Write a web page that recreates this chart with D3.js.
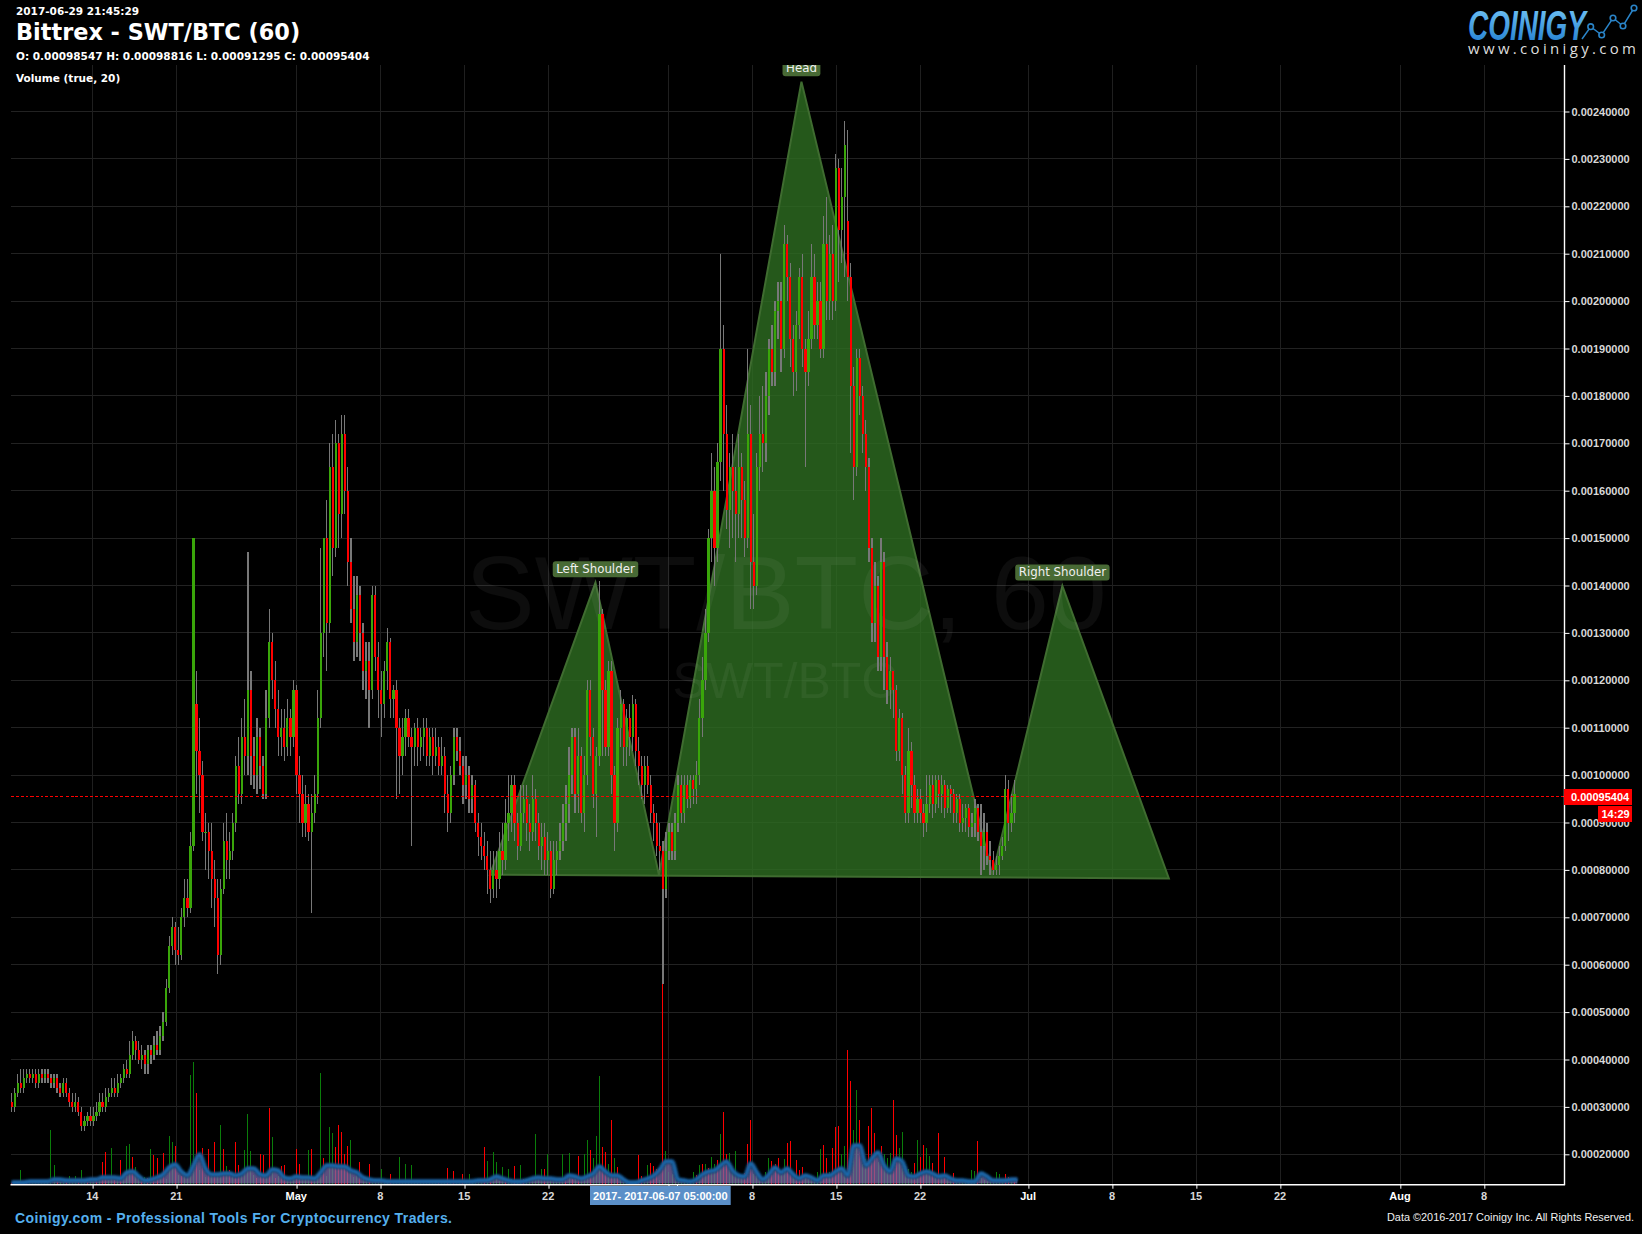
<!DOCTYPE html>
<html><head><meta charset="utf-8">
<style>html,body{margin:0;padding:0;background:#000;overflow:hidden}svg{display:block}</style>
<script src="https://d3js.org/d3.v7.min.js"></script></head><body>
<script>
// Prices are in units of 0.00001 BTC; one candle every candleStepHours from candleStart.
const candleStart = "2017-04-07T06:00:00Z";
const candleStepHours = 6.06;
const opens = [
31,30,33,35,34,36,37,36,37,35,
37,36,37,36,35,36,34,33,35,33,
31,30,31,29,26,27,28,27,28,29,
31,30,32,33,34,33,35,36,38,37,
41,44,42,40,41,39,42,41,43,42,
45,48,55,64,68,63,62,70,74,72,
85,115,105,100,88,88,84,78,74,62,
76,86,82,84,90,102,96,108,104,118,
104,100,108,102,96,112,128,120,114,108,
110,106,112,108,118,100,96,90,94,88,
92,96,112,130,150,132,165,148,170,155,
172,160,145,135,128,138,130,122,124,118,
138,125,118,115,122,128,116,118,110,104,
108,112,108,106,110,106,108,110,104,108,
104,106,102,104,96,92,100,108,105,102,
98,100,95,98,90,87,85,83,80,76,
80,78,84,82,90,92,98,90,85,92,
95,90,88,95,90,85,87,82,84,76,
82,84,86,90,94,100,108,96,104,92,
100,118,108,96,104,134,118,106,122,100,
90,110,115,106,112,108,115,105,102,98,
102,98,92,90,85,84,76,84,88,84,
90,98,92,98,95,99,97,100,112,120,
130,150,160,148,166,190,172,156,165,160,
155,165,158,150,172,145,140,165,172,170,
180,190,185,198,200,190,212,205,192,185,
195,205,190,185,192,205,195,200,190,212,
200,210,200,228,215,222,217,205,182,165,
188,180,172,165,148,132,140,125,145,125,
118,122,118,105,112,100,92,105,98,92,
95,92,90,94,98,94,99,96,98,93,
97,96,92,95,90,91,93,89,90,93,
88,85,88,83,82,80,81,83,85,97,
90,92];
const closes = [
30,33,35,34,36,37,36,37,35,37,
36,37,36,35,36,34,33,35,33,31,
30,31,29,26,27,28,27,28,29,31,
30,32,33,34,33,35,36,38,37,41,
44,42,40,41,39,42,41,43,42,45,
48,55,64,68,63,62,70,74,72,85,
150,105,100,88,88,84,78,74,62,76,
86,82,84,90,102,96,108,104,118,104,
100,108,102,96,112,128,120,114,108,110,
106,112,108,118,100,96,90,94,88,92,
96,112,130,150,132,165,148,170,155,172,
160,145,135,128,138,130,122,124,118,138,
125,118,115,122,128,116,118,110,104,108,
112,108,106,110,106,108,110,104,108,104,
106,102,104,96,92,100,108,105,102,98,
100,95,98,90,87,85,83,80,76,80,
78,84,82,90,92,98,90,85,92,95,
90,88,95,90,85,87,82,84,76,82,
84,86,90,94,100,108,96,104,92,100,
118,108,96,104,134,118,106,122,100,90,
110,115,106,112,108,115,105,102,98,102,
98,92,90,85,84,76,84,88,84,90,
98,92,98,95,99,97,100,112,120,130,
150,160,148,166,190,172,156,165,160,155,
165,158,150,172,145,140,165,172,170,180,
190,185,198,200,190,212,205,192,185,195,
205,190,185,192,205,195,200,190,212,200,
210,200,228,215,222,233,205,182,165,188,
180,172,165,148,132,140,125,145,125,118,
122,118,105,112,100,92,105,98,92,95,
92,90,94,98,94,99,96,98,93,97,
96,92,95,90,91,93,89,90,93,88,
85,88,83,82,80,81,83,85,97,90,
92,96];
const highs = [
33,34,37,38,38,38,38,38,38,38,
38,38,38,37,37,37,35,36,36,34,
33,33,32,30,28,29,30,30,31,33,
33,34,34,36,36,37,37,39,40,44,
46,45,44,43,42,43,43,45,46,47,
50,57,66,70,69,68,72,78,78,88,
150,122,112,103,92,90,90,82,78,78,
90,92,88,92,104,108,112,116,147,122,
108,112,110,104,118,135,130,124,118,114,
114,116,114,120,119,104,100,98,96,96,
100,118,148,148,158,170,172,175,172,176,
176,165,150,142,142,140,132,128,128,140,
140,128,122,124,131,129,119,120,112,112,
114,114,110,111,112,110,112,112,110,110,
110,108,108,106,100,102,110,110,108,104,
104,102,100,99,92,90,88,86,84,84,
84,88,90,95,100,100,100,92,98,98,
98,94,100,97,92,90,90,88,86,86,
86,90,94,98,106,110,110,110,106,104,
120,120,110,106,141,135,120,124,124,102,
112,118,116,114,115,117,116,108,104,104,
104,100,94,92,90,86,88,90,90,92,
100,100,100,100,100,100,103,116,125,135,
152,168,165,170,210,195,178,168,172,165,
172,168,162,190,178,155,168,180,182,185,
192,195,200,204,204,216,214,208,195,198,
207,210,192,198,212,210,204,204,218,222,
214,216,231,230,228,238,236,208,186,190,
190,182,175,167,150,145,142,150,147,128,
125,122,119,114,113,102,110,107,100,97,
97,94,100,100,100,100,100,100,99,98,
98,97,96,96,94,94,94,92,95,94,
94,92,90,86,84,83,85,87,100,99,
96,99];
const lows = [
29,29,32,33,33,35,35,35,34,34,
35,35,35,34,34,33,32,32,32,30,
29,29,28,25,25,26,26,26,27,28,
29,29,31,32,32,32,34,35,36,36,
40,40,39,38,37,37,39,40,41,41,
44,47,54,62,60,60,61,68,70,71,
84,96,92,86,80,78,72,68,58,60,
75,78,78,82,88,94,94,100,100,98,
97,96,97,95,95,110,116,110,104,104,
103,104,104,106,96,90,87,87,86,71,
90,94,110,125,122,130,142,146,148,150,
155,140,132,124,125,124,118,116,110,116,
122,112,108,112,118,112,112,95,96,100,
104,106,85,102,102,103,104,102,102,100,
102,100,100,92,88,90,98,103,100,94,
95,92,92,88,83,82,80,75,73,74,
74,76,79,80,86,88,86,82,84,90,
86,84,86,86,82,80,79,79,74,75,
79,82,84,86,90,96,92,92,90,88,
98,104,93,87,102,104,104,104,96,84,
88,106,102,102,104,105,102,98,95,94,
96,90,86,83,80,56,74,82,82,82,
88,90,90,93,93,94,94,98,108,118,
128,145,140,145,162,160,152,148,150,145,
150,150,146,148,135,135,138,160,164,166,
176,182,182,192,185,188,200,186,180,181,
192,186,165,182,190,192,192,188,188,196,
196,196,198,204,208,205,200,168,158,163,
176,168,160,145,128,128,122,122,118,115,
114,112,103,103,96,90,90,93,90,90,
90,87,88,92,91,92,93,92,91,92,
92,90,90,88,88,88,87,87,87,86,
79,80,81,79,79,79,79,82,84,86,
88,90];
// Signed volume per candle: positive is green, negative is red.
const volumes = [
-1,1,1,14,2,-2,1,1,1,1,
1,1,2,54,19,-3,2,3,-2,8,
2,8,-2,14,3,-2,4,5,-3,6,
-22,-32,4,36,-4,5,-24,6,38,40,
-27,17,6,-5,7,-6,35,-29,-26,8,
-31,5,48,42,-38,9,-8,12,10,109,
122,-91,14,-36,7,-35,8,-42,9,59,
-35,18,-14,10,-42,-19,8,34,70,33,
9,-6,-30,-29,7,-76,47,-6,8,-18,
-19,5,4,6,-35,-20,6,5,34,-35,
7,6,111,-26,8,57,51,-37,-59,-52,
-30,-38,44,7,8,-22,6,4,-20,5,
5,3,15,3,3,-10,2,3,27,3,
20,2,19,2,1,2,2,1,2,2,
1,-3,2,1,-16,2,-13,1,1,-10,
2,10,3,2,3,2,-37,23,-3,32,
22,3,17,-4,15,5,-18,4,19,-5,
5,4,6,50,6,15,-15,30,5,4,
3,6,30,-4,31,-5,5,-28,6,30,
44,-34,26,48,108,-37,-32,20,-64,26,
-17,6,2,1,1,1,1,-29,-8,3,
19,-21,-18,-15,4,-200,33,12,10,7,
6,5,3,2,3,12,-9,19,-20,20,
-16,27,20,-24,50,-72,-30,31,12,33,
8,7,-11,-40,-64,10,12,6,5,12,
26,-23,-20,-26,9,25,-41,-43,9,-24,
-14,-17,7,5,8,6,12,35,-39,-26,
12,-36,-57,-58,30,38,-134,-103,54,94,
-64,20,25,-58,-76,-51,22,-38,30,26,
31,-84,-49,36,52,18,15,12,-21,44,
-27,-39,36,28,-21,10,-51,8,-27,7,
6,-11,5,5,4,3,4,14,13,-43,
6,4,3,3,4,12,10,3,-10,-7,
4,-5];
// Volume moving average, one value every second candle.
const volumeAverage = [
1,1,1,2,2,2,2,4,4,3,3,3,3,4,4,6,6,6,5,11,
12,7,3,4,6,9,16,19,12,8,18,29,15,9,9,10,10,8,10,15,
15,9,8,14,13,6,5,7,6,6,5,11,18,18,17,17,13,11,6,4,
3,3,2,2,2,2,2,2,2,2,2,2,2,2,2,2,2,3,3,4,
7,5,3,2,2,3,5,6,5,5,4,4,8,7,5,7,10,17,12,8,
8,4,1,1,3,5,8,14,22,22,4,3,2,4,9,12,13,18,22,13,
8,7,20,11,4,9,16,11,15,9,5,8,6,3,8,8,12,15,8,38,
38,18,25,31,18,12,25,22,8,7,10,12,10,7,8,5,3,3,2,2,
10,7,3,3,3,4,4];
const priceTicks = [240,230,220,210,200,190,180,170,160,150,140,130,120,110,100,90,80,70,60,50,40,30,20];
const xTickDates = ["2017-04-14","2017-04-21","2017-05-01","2017-05-08","2017-05-15","2017-05-22","2017-06-01","2017-06-08","2017-06-15","2017-06-22","2017-07-01","2017-07-08","2017-07-15","2017-07-22","2017-08-01","2017-08-08"];
const xTickLabels = ["14","21","May","8","15","22","","8","15","22","Jul","8","15","22","Aug","8"];
const crosshairDate = "2017-06-01T18:00:00Z";
const patternTimes = ["2017-05-17T03:00:00Z","2017-05-25T22:00:00Z","2017-05-31T05:00:00Z","2017-06-12T02:00:00Z","2017-06-28T00:00:00Z","2017-07-03T20:00:00Z","2017-07-12T17:00:00Z"];
const patternPrices = [79,140.6,78.9,246.3,78.9,139.9,78.2];
const patternLabels = [{i:1,text:"Left Shoulder"},{i:3,text:"Head"},{i:5,text:"Right Shoulder"}];
const lastPrice = 95.404;

const W=1642,H=1234, L=10.5,R=1564.5,T=65,B=1184.7;
const svg=d3.select("body").append("svg").attr("width",W).attr("height",H).style("background","#000");
const parse=s=>new Date(s.length===10?s+"T00:00:00Z":s);
const x=d3.scaleUtc().domain([parse("2017-04-14"),parse("2017-08-08")]).range([92.6,1484.3]);
const y=d3.scaleLinear().domain([20,240]).range([1154.3,111.5]);
const vol=d3.scaleLinear().domain([0,100]).range([1183.5,1083.5]);
const stepMs=candleStepHours*3600e3, t0=parse(candleStart).getTime();
const tOf=i=>new Date(t0+i*stepMs);
const sans="'Liberation Sans',Arial,sans-serif", dj="'DejaVu Sans',Verdana,sans-serif";

const defs=svg.append("defs");
defs.append("clipPath").attr("id","plot").append("rect").attr("x",L).attr("y",T).attr("width",R-L).attr("height",B-T);
const lg=defs.append("linearGradient").attr("id","logo").attr("x1",0).attr("x2",0).attr("y1",0).attr("y2",1);
lg.append("stop").attr("offset",0).attr("stop-color","#7dcdfa");
lg.append("stop").attr("offset",1).attr("stop-color","#1a78cc");
defs.append("filter").attr("id","soft").attr("x","-5%").attr("y","-30%").attr("width","110%").attr("height","160%").append("feGaussianBlur").attr("stdDeviation",0.8);

const plot=svg.append("g").attr("clip-path","url(#plot)");
// grid
plot.append("g").selectAll("line").data(priceTicks).join("line")
 .attr("x1",L).attr("x2",R).attr("y1",d=>y(d)).attr("y2",d=>y(d)).attr("stroke","#222").attr("stroke-width",1).attr("shape-rendering","crispEdges");
plot.append("g").selectAll("line").data(xTickDates).join("line")
 .attr("x1",d=>x(parse(d))).attr("x2",d=>x(parse(d))).attr("y1",T).attr("y2",B).attr("stroke","#1f1f1f").attr("stroke-width",1).attr("shape-rendering","crispEdges");

// pattern
const patPts=patternTimes.map((t,i)=>[x(parse(t)),y(patternPrices[i])]);
plot.append("path").attr("d",d3.line()(patPts)+"Z").attr("fill","#2e6e22").attr("fill-opacity",0.8).attr("stroke","#3f6c30").attr("stroke-width",2).attr("stroke-linejoin","miter");

// watermarks
plot.append("text").attr("x",786).attr("y",629).attr("text-anchor","middle")
 .attr("font-family",sans).attr("font-size",104).attr("fill","#fff").attr("fill-opacity",0.05).text("SWT/BTC, 60");
plot.append("text").attr("x",785).attr("y",698).attr("text-anchor","middle")
 .attr("font-family",sans).attr("font-size",50).attr("fill","#fff").attr("fill-opacity",0.05).text("SWT/BTC");

// volume
const idx=d3.range(opens.length);
plot.append("g").selectAll("line").data(idx).join("line")
 .attr("x1",i=>x(tOf(i))).attr("x2",i=>x(tOf(i))).attr("y1",vol(0)).attr("y2",i=>vol(Math.abs(volumes[i])))
 .attr("stroke",i=>volumes[i]>=0?"#0a7d0a":"#ff0000").attr("stroke-width",1).attr("shape-rendering","crispEdges");
const smaX=j=>x(tOf(j*2));
const area=d3.area().x((d,j)=>smaX(j)).y0(vol(0)).y1(d=>vol(d)).curve(d3.curveMonotoneX);
const sline=d3.line().x((d,j)=>smaX(j)).y(d=>vol(d)).curve(d3.curveMonotoneX);
plot.append("path").attr("d",area(volumeAverage)).attr("fill","#7a68a8").attr("fill-opacity",0.75);
plot.append("path").attr("d",sline(volumeAverage)).attr("fill","none").attr("stroke","#123f6b").attr("stroke-width",5).attr("filter","url(#soft)").attr("stroke-linejoin","round");
plot.append("path").attr("d",sline(volumeAverage)).attr("fill","none").attr("stroke","#1b70b8").attr("stroke-width",2.4).attr("filter","url(#soft)").attr("stroke-linejoin","round");

// candles
const c=plot.append("g").attr("shape-rendering","crispEdges");
c.selectAll("line.w").data(idx).join("line").attr("class","w")
 .attr("x1",i=>x(tOf(i))).attr("x2",i=>x(tOf(i))).attr("y1",i=>y(highs[i])).attr("y2",i=>y(lows[i]))
 .attr("stroke","#787878").attr("stroke-width",1.2);
c.selectAll("rect").data(idx).join("rect")
 .attr("x",i=>x(tOf(i))-1).attr("width",2.2)
 .attr("y",i=>y(Math.max(opens[i],closes[i]))).attr("height",i=>Math.max(1,Math.abs(y(opens[i])-y(closes[i]))))
 .attr("fill",i=>closes[i]>=opens[i]?"#3aa60a":"#ff0000");

// pattern labels
const pl=plot.append("g").selectAll("g").data(patternLabels).join("g").attr("transform",d=>`translate(${patPts[d.i][0]},${patPts[d.i][1]-5.5})`);
pl.append("text").attr("class","pt").attr("text-anchor","middle").attr("y",-4.2).attr("font-family",dj).attr("font-size",11.8).attr("fill","#f0f0f0").text(d=>d.text)
 .each(function(d){d.w=this.getComputedTextLength();});
pl.insert("rect","text").attr("x",d=>-d.w/2-3.5).attr("width",d=>d.w+7).attr("y",-16).attr("height",16).attr("rx",3).attr("fill","#486a35");

// last price line
svg.append("line").attr("x1",L).attr("x2",R).attr("y1",y(lastPrice)).attr("y2",y(lastPrice)).attr("stroke","#ff0000").attr("stroke-width",1).attr("stroke-dasharray","3,2").attr("shape-rendering","crispEdges");

// axes
const fmt=d=>(d/1e5).toFixed(8);
const ay=svg.append("g").attr("transform",`translate(${R},0)`).call(d3.axisRight(y).tickValues(priceTicks).tickFormat(fmt).tickSize(5).tickPadding(2));
const ax=svg.append("g").attr("transform",`translate(0,${B})`).call(d3.axisBottom(x).tickValues(xTickDates.map(parse)).tickFormat((d,i)=>xTickLabels[i]).tickSize(4).tickPadding(4));
[ay,ax].forEach(a=>{a.select(".domain").remove();a.selectAll("line").attr("stroke","#fff").attr("stroke-width",1);
 a.selectAll("text").attr("font-family",sans).attr("font-size",11).attr("font-weight","bold").attr("fill","#d8d8d8");});
ax.selectAll("text").attr("fill",(d,i)=>isNaN(+xTickLabels[i])?"#fff":"#d8d8d8").attr("dx",-0.8);
svg.append("line").attr("x1",L).attr("x2",R+.6).attr("y1",B).attr("y2",B).attr("stroke","#fff").attr("stroke-width",1.4);
svg.append("line").attr("x1",R).attr("x2",R).attr("y1",T).attr("y2",B).attr("stroke","#fff").attr("stroke-width",1.4);

// crosshair label
svg.append("line").attr("x1",x(parse(crosshairDate))).attr("x2",x(parse(crosshairDate))).attr("y1",B).attr("y2",B+4).attr("stroke","#fff");
svg.append("rect").attr("x",590).attr("y",1186).attr("width",140.7).attr("height",19).attr("fill","#5b8fc8");
svg.append("text").attr("x",660.3).attr("y",1200).attr("text-anchor","middle").attr("font-family",sans).attr("font-size",11).attr("font-weight","bold").attr("fill","#fff").text("2017- 2017-06-07 05:00:00");

// price tags
svg.append("rect").attr("x",1564).attr("y",789).attr("width",68).attr("height",16).attr("fill","#ff0000");
svg.append("text").attr("x",1571).attr("y",801).attr("font-family",sans).attr("font-size",11).attr("font-weight","bold").attr("fill","#fff").text(fmt(lastPrice));
svg.append("rect").attr("x",1598).attr("y",806).attr("width",34).attr("height",16).attr("fill","#ff0000");
svg.append("text").attr("x",1601.5).attr("y",818).attr("font-family",sans).attr("font-size",11).attr("font-weight","bold").attr("fill","#fff").text("14:29");

// header
const head=(t,xx,yy,fs,w="bold",col="#fff",ff=dj)=>svg.append("text").attr("x",xx).attr("y",yy).attr("font-family",ff).attr("font-size",fs).attr("font-weight",w).attr("fill",col).text(t);
head("2017-06-29 21:45:29",16,15,10.5);
head("Bittrex - SWT/BTC (60)",16,40,22.4);
head("O: 0.00098547 H: 0.00098816 L: 0.00091295 C: 0.00095404",16,60,10.5);
head("Volume (true, 20)",16,82,10.5);
head("Coinigy.com - Professional Tools For Cryptocurrency Traders.",15,1223,14,"bold","#55b0ee",sans).attr("textLength",437).attr("lengthAdjust","spacing");
head("Data \u00a92016-2017 Coinigy Inc. All Rights Reserved.",1387,1221,10.5,"normal","#f0f0f0",sans).attr("textLength",247).attr("lengthAdjust","spacingAndGlyphs");

// logo
svg.append("text").attr("x",1468).attr("y",39.5).attr("font-family",sans).attr("font-size",43).attr("font-weight","bold").attr("font-style","italic").attr("fill","url(#logo)").attr("textLength",118).attr("lengthAdjust","spacingAndGlyphs").text("COINIGY");
const logoLine=[[1582,39],[1590.7,26.7],[1601.7,35],[1613,18],[1623,26],[1634,8]];
svg.append("path").attr("d",d3.line()(logoLine)).attr("fill","none").attr("stroke","#2a84c8").attr("stroke-width",1.5);
svg.append("g").selectAll("circle").data(logoLine.slice(1)).join("circle").attr("cx",d=>d[0]).attr("cy",d=>d[1]).attr("r",2.8).attr("fill","#000").attr("stroke","#2a84c8").attr("stroke-width",1.6);
svg.append("text").attr("x",1468).attr("y",54).attr("font-family","'Open Sans',sans-serif").attr("font-size",15).attr("fill","#ddd").attr("textLength",168).attr("lengthAdjust","spacing").text("www.coinigy.com");
</script></body></html>
